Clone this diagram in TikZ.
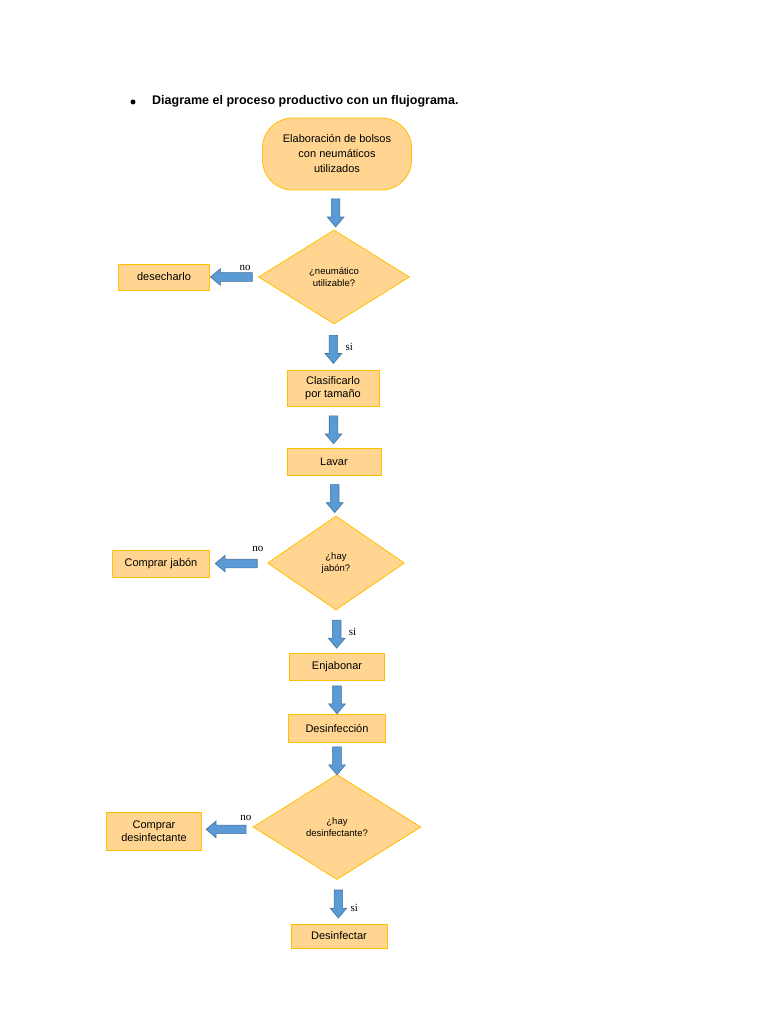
\documentclass[tikz,border=0pt]{standalone}
\usepackage{fontspec}
\setmainfont{Liberation Sans}
\newfontfamily\seriffont{Liberation Serif}
\usepackage{xcolor}
\usepackage{tikz}
\usetikzlibrary{shapes.geometric,shapes.arrows}
\definecolor{cajafondo}{HTML}{FFD591}
\definecolor{cajaborde}{HTML}{FFC000}
\definecolor{flechaazul}{HTML}{5B9BD5}
\definecolor{flechaborde}{HTML}{41719C}

\begin{document}
\begin{tikzpicture}[x=1pt,y=-1pt,
  caja/.style={draw=cajaborde,fill=cajafondo,line width=0.8pt,minimum width=94pt,minimum height=27pt,inner sep=2pt,align=center,font=\fontsize{11}{13}\selectfont},
  rombo/.style={diamond,draw=cajaborde,fill=cajafondo,line width=0.8pt,inner sep=1pt,align=center,font=\fontsize{9.5}{12}\selectfont},
  flecha/.style={single arrow,draw=flechaborde,fill=flechaazul,line width=0.6pt,minimum height=28pt,inner sep=4pt,single arrow head extend=4pt,single arrow tip angle=80},
  etiq/.style={font=\seriffont\fontsize{11}{13}\selectfont,inner sep=1pt}]
  \useasboundingbox (0,0) rectangle (768,1024);
  % titulo
  \node[circle,fill=black,inner sep=0pt,minimum size=5pt] (vineta) at (133,102) {};
  \node[anchor=west,inner sep=0pt,font=\bfseries\fontsize{12.5}{15}\selectfont] (titulo) at (152,101) {Diagrame el proceso productivo con un flujograma.};
  % inicio
  \node[caja,rounded corners=30pt,minimum width=149pt,minimum height=72pt,font=\fontsize{11}{15}\selectfont] (inicio) at (337,154) {Elaboración de bolsos\\con neumáticos\\utilizados};
  % primera decision
  \node[rombo,minimum width=151pt,minimum height=94pt] (neum) at (334,277) {¿neumático\\utilizable?};
  \node[caja,minimum width=91pt,minimum height=26pt] (desech) at (164,277) {desecharlo};
  \node[caja,minimum width=92pt,minimum height=36pt] (clasif) at (333,388) {Clasificarlo\\por tamaño};
  \node[caja] (lavar) at (334,462) {Lavar};
  % segunda decision
  \node[rombo,minimum width=137pt,minimum height=94pt] (jabon) at (336,563) {¿hay\\jabón?};
  \node[caja,minimum width=97pt] (compjab) at (161,564) {Comprar jabón};
  \node[caja,minimum width=95pt] (enjab) at (337,667) {Enjabonar};
  \node[caja,minimum width=97pt,minimum height=28pt] (desinf) at (337,728) {Desinfección};
  % tercera decision
  \node[rombo,minimum width=168pt,minimum height=105pt] (haydes) at (337,827) {¿hay\\desinfectante?};
  \node[caja,minimum width=95pt,minimum height=38pt] (compdes) at (154,831) {Comprar\\desinfectante};
  \node[caja,minimum width=96pt,minimum height=24pt] (desfin) at (339,936) {Desinfectar};
  % flechas
  \path (inicio) -- node[flecha,rotate=-90]{} (neum);
  \path (neum) -- node[flecha,rotate=180,minimum height=42pt]{} node[etiq,pos=0.27,above=5pt]{no} (desech);
  \path (neum) -- node[flecha,rotate=-90]{} node[etiq,right=11pt]{si} (clasif);
  \path (clasif) -- node[flecha,rotate=-90]{} (lavar);
  \path (lavar) -- node[flecha,rotate=-90]{} (jabon);
  \path (jabon) -- node[flecha,rotate=180,minimum height=42pt]{} node[etiq,pos=0.17,above=11pt]{no} (compjab);
  \path (jabon) -- node[flecha,rotate=-90]{} node[etiq,right=11pt]{si} (enjab);
  \path (enjab) -- node[flecha,rotate=-90]{} (desinf);
  \path (desinf) -- node[flecha,rotate=-90]{} (haydes);
  \path (haydes) -- node[flecha,rotate=180,minimum height=40pt]{} node[etiq,pos=0.18,above=7pt]{no} (compdes);
  \path (haydes) -- node[flecha,rotate=-90]{} node[etiq,right=11pt,yshift=-6pt]{si} (desfin);
\end{tikzpicture}
\end{document}
